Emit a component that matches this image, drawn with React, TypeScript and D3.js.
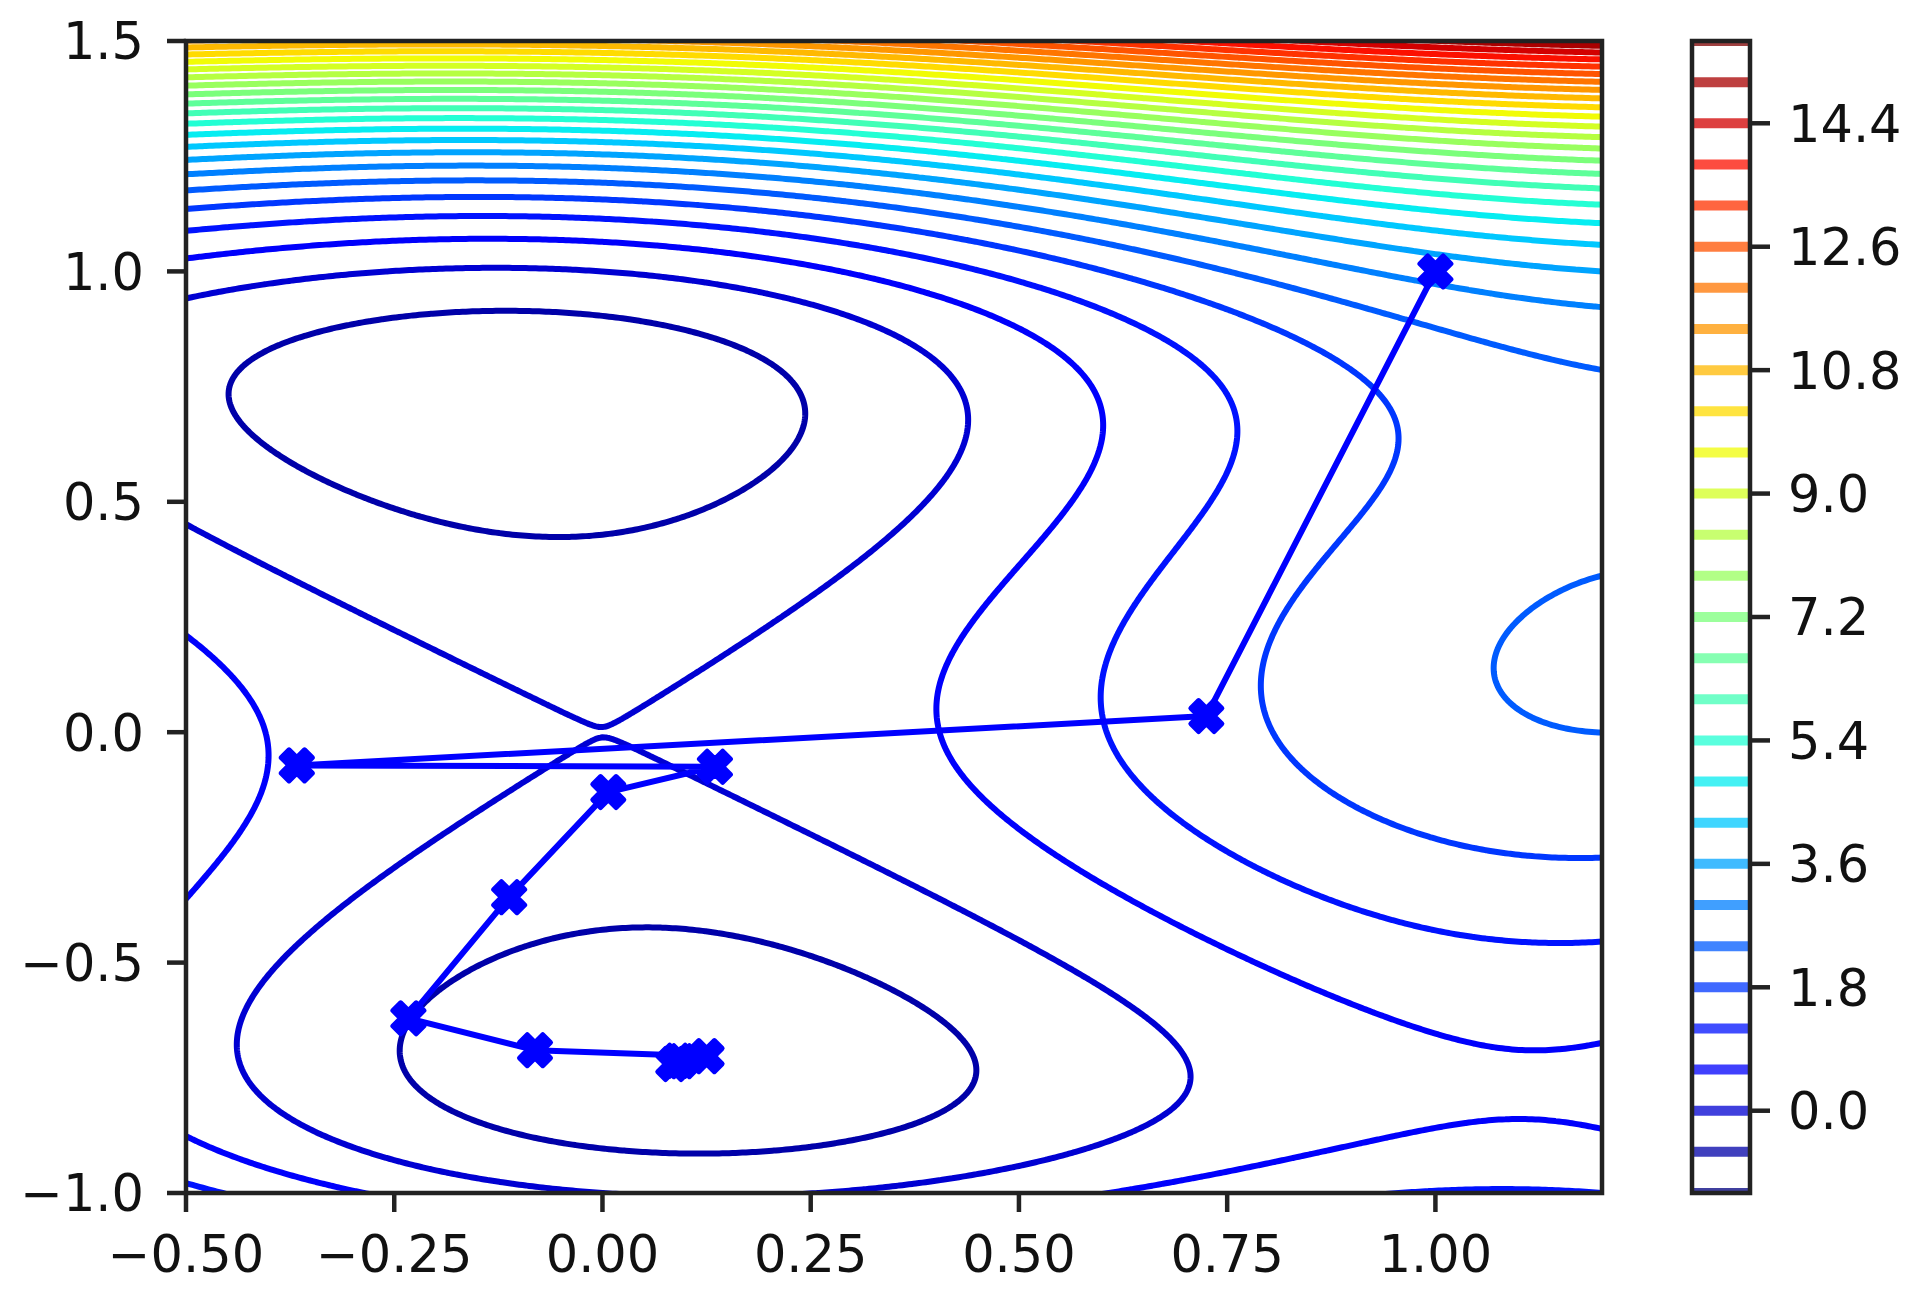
import React, { useMemo } from "react";
import * as d3 from "d3";

// ---- data ----
const xTicks = [-0.5, -0.25, 0.0, 0.25, 0.5, 0.75, 1.0];
const xTickLabels = ["\u22120.50", "\u22120.25", "0.00", "0.25", "0.50", "0.75", "1.00"];
const yTicks = [-1.0, -0.5, 0.0, 0.5, 1.0, 1.5];
const yTickLabels = ["\u22121.0", "\u22120.5", "0.0", "0.5", "1.0", "1.5"];
const levels = [
  -1.2, -0.6, 0.0, 0.6, 1.2, 1.8, 2.4, 3.0, 3.6, 4.2, 4.8, 5.4, 6.0, 6.6, 7.2,
  7.8, 8.4, 9.0, 9.6, 10.2, 10.8, 11.4, 12.0, 12.6, 13.2, 13.8, 14.4, 15.0, 15.6,
];
const cbTicks = [0.0, 1.8, 3.6, 5.4, 7.2, 9.0, 10.8, 12.6, 14.4];
const cbTickLabels = ["0.0", "1.8", "3.6", "5.4", "7.2", "9.0", "10.8", "12.6", "14.4"];
const pathX = [1.0, 0.725, -0.367, 0.135, 0.007, -0.112, -0.233, -0.081, 0.125, 0.085, 0.095, 0.09];
const pathY = [1.0, 0.035, -0.072, -0.075, -0.13, -0.358, -0.621, -0.69, -0.703, -0.72, -0.714, -0.713];

// six-hump camel function
const camel = (x: number, y: number) =>
  (4 - 2.1 * x * x + (x * x * x * x) / 3) * x * x + x * y + (-4 + 4 * y * y) * y * y;

// jet colormap
const jetR = [[0, 0], [0.35, 0], [0.66, 1], [0.89, 1], [1, 0.5]];
const jetG = [[0, 0], [0.125, 0], [0.375, 1], [0.64, 1], [0.91, 0], [1, 0]];
const jetB = [[0, 0.5], [0.11, 1], [0.34, 1], [0.65, 0], [1, 0]];
function seg(pts: number[][], t: number) {
  for (let i = 1; i < pts.length; i++) {
    if (t <= pts[i][0]) {
      const [x0, y0] = pts[i - 1];
      const [x1, y1] = pts[i];
      return y0 + ((t - x0) / (x1 - x0)) * (y1 - y0);
    }
  }
  return pts[pts.length - 1][1];
}
function jet(t: number, alpha = 1) {
  t = Math.max(0, Math.min(1, t));
  const c = [seg(jetR, t), seg(jetG, t), seg(jetB, t)].map((v) =>
    Math.round((v * alpha + (1 - alpha)) * 255)
  );
  return `rgb(${c[0]},${c[1]},${c[2]})`;
}

// ---- layout ----
const W = 1914;
const H = 1296;
const PL = 186, PR = 1602, PT = 41, PB = 1193;
const CBL = 1692, CBR = 1750;
const FONT = 51;
const AX = "#222";

const xs = d3.scaleLinear().domain([-0.5, 1.2]).range([PL, PR]);
const ys = d3.scaleLinear().domain([-1.0, 1.5]).range([PB, PT]);
const vmin = d3.min(levels)!;
const vmax = d3.max(levels)!;
const cs = d3.scaleLinear().domain([vmin, vmax]).range([PB, PT]);
const norm = (v: number) => (v - vmin) / (vmax - vmin);

function markerPath(s: number) {
  const pts = [
    [0.25, 0.0], [0.5, 0.25], [0.75, 0.0], [1.0, 0.25], [0.75, 0.5], [1.0, 0.75],
    [0.75, 1.0], [0.5, 0.75], [0.25, 1.0], [0.0, 0.75], [0.25, 0.5], [0.0, 0.25],
  ];
  return "M" + pts.map(([a, b]) => `${((a - 0.5) * s).toFixed(2)},${((b - 0.5) * s).toFixed(2)}`).join("L") + "Z";
}

export default function App() {
  const contourPaths = useMemo(() => {
    const step = 0.004;
    const gx0 = -0.6, gx1 = 1.3, gy0 = -1.1, gy1 = 1.6;
    const nx = Math.round((gx1 - gx0) / step) + 1;
    const ny = Math.round((gy1 - gy0) / step) + 1;
    const vals: number[] = new Array(nx * ny);
    for (let j = 0; j < ny; j++) {
      const y = gy1 - j * step;
      for (let i = 0; i < nx; i++) {
        vals[j * nx + i] = camel(gx0 + i * step, y);
      }
    }
    // the saddle at the origin lies exactly on level 0; nudge it slightly so the
    // branches split like the reference's rendering
    const thr = levels.map((v) => (v === 0 ? -0.0005 : v));
    const gen = d3.contours().size([nx, ny]).thresholds(thr);
    const res = gen(vals);
    return res.map((c, k) => {
      let d = "";
      for (const poly of c.coordinates) {
        for (const ring of poly) {
          d +=
            "M" +
            ring
              .map(([cx, cy]) => `${xs(gx0 + (cx - 0.5) * step).toFixed(2)},${ys(gy1 - (cy - 0.5) * step).toFixed(2)}`)
              .join("L") +
            "Z";
        }
      }
      return { value: levels[k], d };
    });
  }, []);

  const line = d3.line<number>().x((i) => xs(pathX[i])).y((i) => ys(pathY[i]));
  const idx = pathX.map((_, i) => i);
  const mk = markerPath(31);

  return (
    <svg
      width={W}
      height={H}
      style={{ position: "absolute", left: 0, top: 0, display: "block", background: "#fff" }}
      fontFamily="DejaVu Sans, sans-serif"
    >
      <defs>
        <clipPath id="plotclip">
          <rect x={PL} y={PT} width={PR - PL} height={PB - PT} />
        </clipPath>
        <clipPath id="cbclip">
          <rect x={CBL} y={PT - 2} width={CBR - CBL} height={PB - PT + 4} />
        </clipPath>
      </defs>
      <rect x={0} y={0} width={W} height={H} fill="#fff" />
      <g clipPath="url(#plotclip)">
        {contourPaths.map((c) => (
          <path
            key={c.value}
            d={c.d}
            fill="none"
            stroke={jet(norm(c.value))}
            strokeWidth={6}
            strokeLinejoin="round"
          />
        ))}
        <path d={line(idx) || ""} fill="none" stroke="#0000ff" strokeWidth={6} strokeLinejoin="round" />
        {idx.map((i) => (
          <path
            key={i}
            d={mk}
            transform={`translate(${xs(pathX[i])},${ys(pathY[i])})`}
            fill="#0000ff"
            stroke="#0000ff"
            strokeWidth={5}
            strokeLinejoin="round"
          />
        ))}
      </g>
      {/* axes spines */}
      <rect x={PL} y={PT} width={PR - PL} height={PB - PT} fill="none" stroke={AX} strokeWidth={4.5} />
      {xTicks.map((t, i) => (
        <g key={"x" + i}>
          <line x1={xs(t)} x2={xs(t)} y1={PB} y2={PB + 19} stroke={AX} strokeWidth={4.5} />
          <text x={xs(t)} y={PB + 79} textAnchor="middle" fontSize={FONT} fill="#111">
            {xTickLabels[i]}
          </text>
        </g>
      ))}
      {yTicks.map((t, i) => (
        <g key={"y" + i}>
          <line x1={PL - 19} x2={PL} y1={ys(t)} y2={ys(t)} stroke={AX} strokeWidth={4.5} />
          <text x={PL - 42} y={ys(t)} dy="0.36em" textAnchor="end" fontSize={FONT} fill="#111">
            {yTickLabels[i]}
          </text>
        </g>
      ))}
      {/* colorbar */}
      <g clipPath="url(#cbclip)">
        {levels.map((v) => (
          <line
            key={"cb" + v}
            x1={CBL}
            x2={CBR}
            y1={cs(v)}
            y2={cs(v)}
            stroke={jet(norm(v), 0.75)}
            strokeWidth={10}
          />
        ))}
      </g>
      <rect x={CBL} y={PT} width={CBR - CBL} height={PB - PT} fill="none" stroke={AX} strokeWidth={4.5} />
      {cbTicks.map((t, i) => (
        <g key={"c" + i}>
          <line x1={CBR} x2={CBR + 20} y1={cs(t)} y2={cs(t)} stroke={AX} strokeWidth={4.5} />
          <text x={CBR + 38} y={cs(t)} dy="0.36em" textAnchor="start" fontSize={FONT} fill="#111">
            {cbTickLabels[i]}
          </text>
        </g>
      ))}
    </svg>
  );
}
